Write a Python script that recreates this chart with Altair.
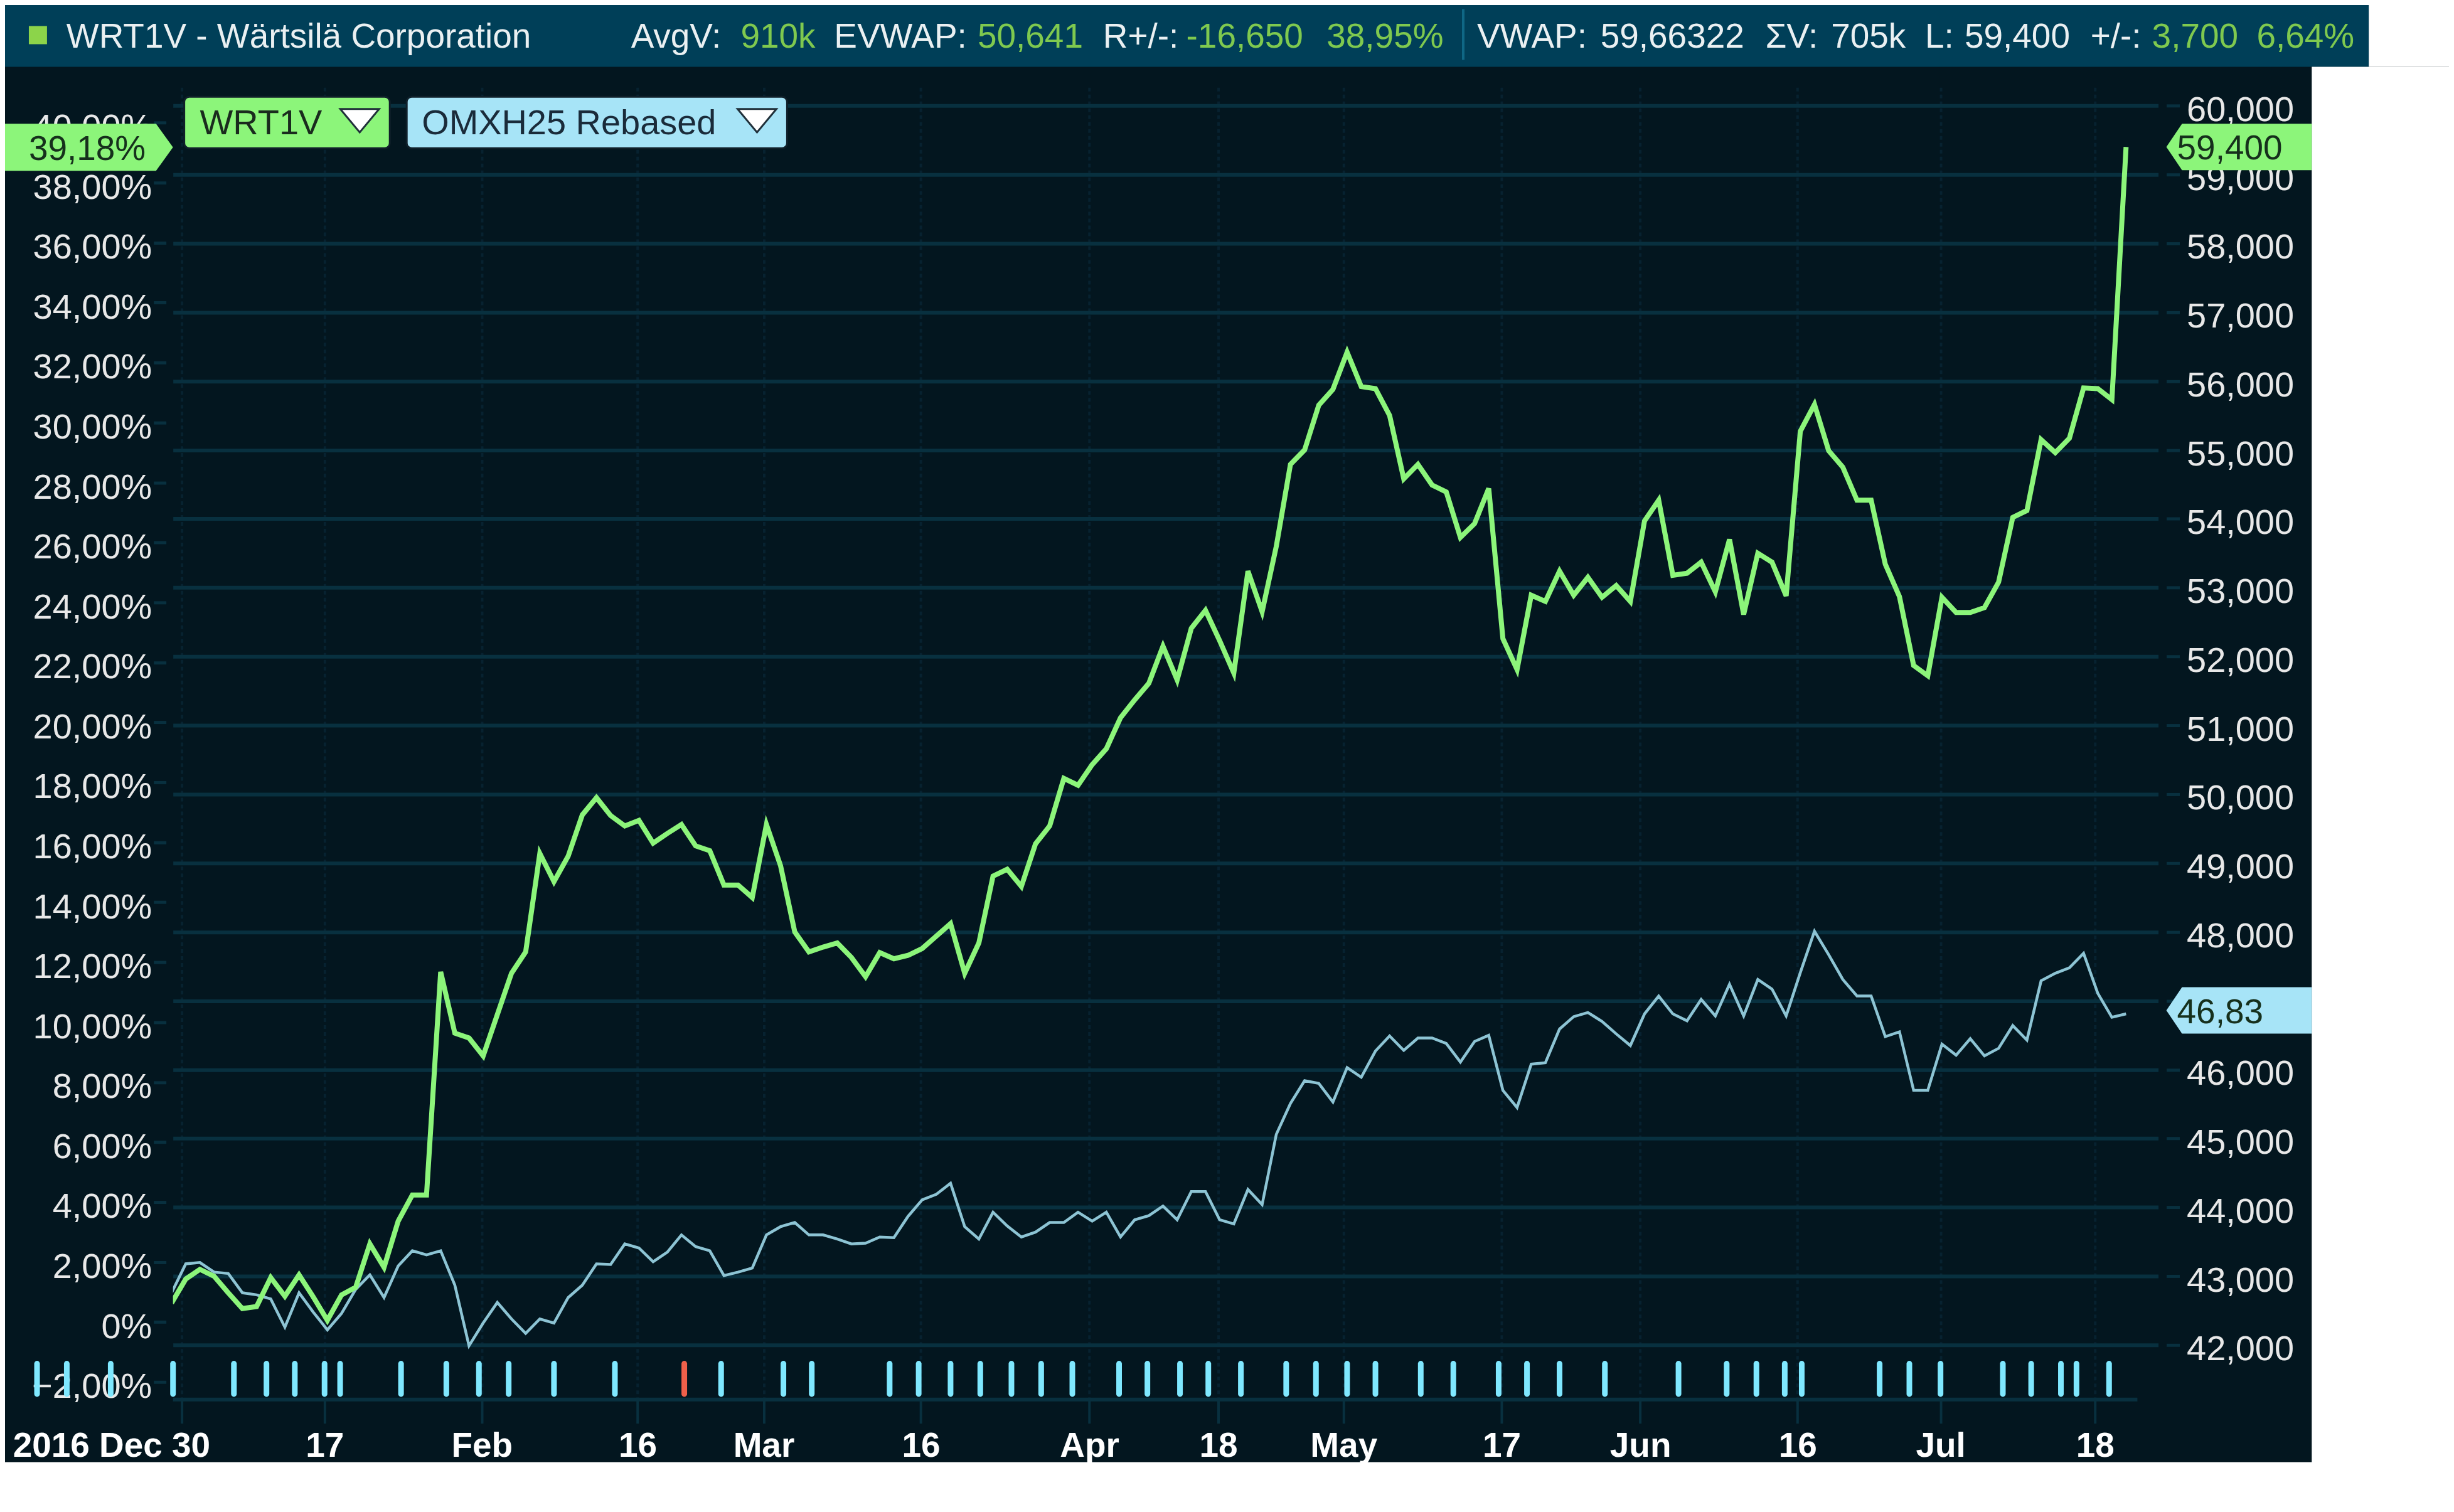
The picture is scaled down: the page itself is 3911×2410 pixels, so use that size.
import json

import altair as alt
import pandas as pd

# trading sessions, -1 is clipped by the left edge of the plot
sessions = list(range(-1, 138))

wrt1v_price = [
    42610, 42960, 43100, 43000, 42760, 42530, 42560, 42980, 42710, 43020,
    42700, 42360, 42730, 42840, 43470, 43130, 43800, 44180, 44180, 47420,
    46530, 46460, 46200, 46800, 47400, 47710, 49140, 48730, 49100, 49700,
    49950, 49690, 49540, 49620, 49290, 49430, 49560, 49250, 49180, 48680,
    48680, 48500, 49560, 48960, 48000, 47710, 47780, 47840, 47630, 47350,
    47700, 47610, 47660, 47760, 47940, 48120, 47400, 47840, 48810, 48910,
    48660, 49280, 49540, 50230, 50130, 50430, 50660, 51110, 51370, 51610,
    52150, 51660, 52410, 52670, 52230, 51760, 53240, 52650, 53600, 54790,
    55000, 55650, 55880, 56420, 55920, 55890, 55500, 54580, 54790, 54490,
    54390, 53730, 53930, 54440, 52260, 51810, 52890, 52800, 53240, 52890,
    53150, 52860, 53030, 52800, 53970, 54270, 53180, 53210, 53370, 52940,
    53700, 52610, 53500, 53370, 52880, 55270, 55660, 54990, 54750, 54270,
    54270, 53340, 52870, 51870, 51720, 52860, 52640, 52640, 52710, 53080,
    54020, 54120, 55150, 54960, 55170, 55900, 55890, 55730, 59400,
]

# OMXH25 rebased onto the price axis
omxh25_rebased = [
    42760, 43180, 43200, 43060, 43040, 42760, 42730, 42670, 42260, 42760,
    42480, 42220, 42460, 42810, 43020, 42690, 43150, 43370, 43310, 43370,
    42870, 41990, 42320, 42620, 42380, 42170, 42380, 42320, 42690, 42870,
    43180, 43170, 43470, 43410, 43210, 43350, 43600, 43430, 43370, 43010,
    43060, 43120, 43600, 43720, 43780, 43600, 43600, 43540, 43470, 43480,
    43570, 43560, 43870, 44110, 44190, 44350, 43720, 43540, 43930, 43730,
    43570, 43640, 43780, 43780, 43930, 43800, 43930, 43570, 43820, 43880,
    44020, 43820, 44230, 44230, 43820, 43760, 44260, 44040, 45060, 45510,
    45840, 45800, 45530, 46030, 45890, 46270, 46490, 46280, 46460, 46460,
    46380, 46110, 46410, 46500, 45700, 45450, 46080, 46100, 46590, 46770,
    46830, 46700, 46520, 46350, 46810, 47070, 46810, 46710, 47020, 46780,
    47240, 46780, 47310, 47170, 46780, 47410, 48010, 47670, 47310, 47070,
    47070, 46480, 46550, 45700, 45700, 46370, 46210, 46450, 46200, 46310,
    46640, 46430, 47290, 47400, 47480, 47690, 47110, 46760, 46810,
]

event_sessions = [
    -10.5, -8.4, -5.3, -0.9, 3.4, 5.7, 7.7, 9.8, 10.9, 15.2, 18.4, 20.7, 22.8,
    26.0, 30.3, 37.8, 42.2, 44.2, 49.7, 51.75, 54.0, 56.1, 58.3, 60.4, 62.6,
    65.9, 67.9, 70.2, 72.2, 74.5, 77.7, 79.8, 82.0, 84.0, 87.2, 89.5, 92.7,
    94.7, 97.0, 100.2, 105.4, 108.8, 110.9, 112.9, 114.1, 119.6, 121.7, 123.9,
    128.3, 130.3, 132.4, 133.5, 135.8,
]
red_event_sessions = [35.2]

tick_sessions = [-0.28, 9.8, 20.9, 31.9, 40.8, 51.9, 63.8, 72.9, 81.75, 92.9, 102.7, 113.8, 123.9, 134.8]
tick_labels = ["2016 Dec 30", "17", "Feb", "16", "Mar", "16", "Apr", "18", "May", "17", "Jun", "16", "Jul", "18"]

price_ticks = list(range(42000, 61000, 1000))
pct_ticks = list(range(-2, 42, 2))

header_texts = [
    ("WRT1V - Wärtsilä Corporation", 106, "white"),
    ("AvgV:", 1007, "white"), ("910k", 1182, "green"),
    ("EVWAP:", 1331, "white"), ("50,641", 1560, "green"),
    ("R+/-:", 1760, "white"), ("-16,650", 1893, "green"), ("38,95%", 2117, "green"),
    ("VWAP:", 2357, "white"), ("59,66322", 2554, "white"),
    ("ΣV:", 2817, "white"), ("705k", 2922, "white"),
    ("L:", 3072, "white"), ("59,400", 3135, "white"),
    ("+/-:", 3336, "white"), ("3,700", 3434, "green"), ("6,64%", 3601, "green"),
]

PANEL = "#03161f"
HEADER = "#003f58"
GRID = "#08303f"
VGRID = "#072230"
TEXT = "#e8e8e8"
LIME = "#8cf57a"
SKY = "#a7e4f7"
HEADER_COLORS = {"white": "#eaf0f2", "green": "#7fc94f"}
FONT = "Liberation Sans"

# where the plot's corner sits in the picture
OX, OY = 276, 138
PLOT_W, PLOT_H = 3168, 2094
FULL_W, FULL_H = 3900, 2395

x_scale = alt.Scale(domain=[-0.903, 139.27], nice=False, zero=False)
price_scale = alt.Scale(domain=[41210, 60264], nice=False, zero=False)
pct_scale = alt.Scale(domain=[-2.585, 41.177], nice=False, zero=False)

one_row = alt.Chart(alt.Data(values=[{"a": 1}]))


def box(x0, y0, x1, y1, fill, **kw):
    return one_row.mark_rect(fill=fill, **kw).encode(
        x=alt.value(x0 - OX), x2=alt.value(x1 - OX),
        y=alt.value(y0 - OY), y2=alt.value(y1 - OY))


def label(text, x, y, color, size=55, **kw):
    return one_row.mark_text(
        text=text, font=FONT, fontSize=size, color=color, align="left",
        baseline="alphabetic", **kw).encode(x=alt.value(x - OX), y=alt.value(y - OY))


def marker(x, y, shape, size, **kw):
    return one_row.mark_point(shape=shape, size=size, filled=True, opacity=1, **kw).encode(
        x=alt.value(x - OX), y=alt.value(y - OY))


layers = [
    box(0, 0, 3780, 105, HEADER),
    box(3780, 0, FULL_W + 20, 105, "white"),
    box(3689, 105, FULL_W + 20, FULL_H + 20, "white"),
    box(0, 2332, FULL_W + 20, FULL_H + 20, "white"),
    box(46, 40, 75, 69, "#8cd44a"),
    box(2333, 13, 2337, 94, "#0f6785"),
]
for text, x, kind in header_texts:
    layers.append(label(text, x, 75, HEADER_COLORS[kind]))

# series
lines = pd.DataFrame({"session": sessions, "wrt1v": wrt1v_price, "omx": omxh25_rebased})

x_axis = alt.Axis(
    values=tick_sessions, title=None, domain=False, grid=True, gridColor=VGRID,
    gridWidth=4, gridDash=[6, 5], ticks=True, tickColor=GRID, tickWidth=4, tickSize=38,
    labelFont=FONT, labelFontSize=55, labelFontWeight="bold", labelColor="white",
    labelPadding=10, labelLimit=600, labelOverlap=False, labelBound=False, labelFlush=False,
    labelAlign={"condition": {"test": "datum.value < 0", "value": "right"}, "value": "center"},
    labelOffset={"condition": {"test": "datum.value < 0", "value": 45}, "value": 0},
    labelExpr=f"{json.dumps(tick_labels)}[indexof({json.dumps(tick_sessions)}, datum.value)]",
)
price_axis = alt.Axis(
    values=price_ticks, title=None, orient="right", domain=False, grid=True, gridColor=GRID,
    gridWidth=6, offset=13, tickColor=GRID, tickWidth=5, tickSize=21,
    labelFont=FONT, labelFontSize=56, labelColor=TEXT, labelPadding=11, labelOffset=7,
    labelLimit=400, labelOverlap=False, labelBound=False, labelFlush=False, format=",.0f",
)
pct_axis = alt.Axis(
    values=pct_ticks, title=None, orient="left", domain=False, grid=False, offset=11,
    tickColor=GRID, tickWidth=5, tickSize=20,
    labelFont=FONT, labelFontSize=56, labelColor=TEXT, labelPadding=3, labelOffset=8,
    labelLimit=400, labelOverlap=False, labelBound=False, labelFlush=False,
    labelExpr="datum.value == 0 ? '0%' : replace(format(datum.value, '.2f'), '.', ',') + '%'",
)

x_shared = alt.X("session:Q", scale=x_scale, axis=x_axis)

# bottom line of the plot stops short of the right edge
layers.append(
    alt.Chart(pd.DataFrame({"session": [-0.903], "b": [137.8], "p": [41210]}))
    .mark_rule(color=GRID, strokeWidth=6)
    .encode(x=x_shared, x2="b:Q", y=alt.Y("p:Q", scale=price_scale, axis=None))
)

layers.append(
    alt.Chart(lines).mark_line(color="#8dc4d4", strokeWidth=4.5, clip=True).encode(
        x=x_shared, y=alt.Y("omx:Q", scale=price_scale, axis=None))
)
layers.append(
    alt.Chart(lines).mark_line(color=LIME, strokeWidth=8, clip=True).encode(
        x=x_shared, y=alt.Y("wrt1v:Q", scale=price_scale, axis=price_axis))
)

# event markers along the bottom
events = pd.DataFrame({
    "session": event_sessions + red_event_sessions,
    "kind": ["news"] * len(event_sessions) + ["alert"] * len(red_event_sessions),
    "top": 41730,
    "bottom": 41290,
})
layers.append(
    alt.Chart(events).mark_rule(strokeWidth=9, strokeCap="round").encode(
        x=x_shared,
        y=alt.Y("top:Q", scale=price_scale, axis=None),
        y2="bottom:Q",
        color=alt.Color("kind:N", legend=None,
                        scale=alt.Scale(domain=["news", "alert"], range=["#7fe8ff", "#f0604a"])))
)

# value tags on both sides
LEFT_TAG = "M0,0L-0.27,-0.375L-2.76,-0.375L-2.76,0.375L-0.27,0.375Z"
RIGHT_TAG = "M0,0L0.25,-0.37L2.32,-0.37L2.32,0.37L0.25,0.37Z"
TAG_DARK = "#16301c"

pct_tag = alt.Chart(pd.DataFrame({"v": [39.18], "t": ["39,18%"]}))
layers.append(
    pct_tag.mark_point(shape=LEFT_TAG, size=40000, filled=True, opacity=1, color=LIME).encode(
        x=alt.value(0), y=alt.Y("v:Q", scale=pct_scale, axis=pct_axis))
)
layers.append(
    pct_tag.mark_text(font=FONT, fontSize=55, color=TAG_DARK, align="left", baseline="middle", dy=3).encode(
        x=alt.value(46 - OX), y=alt.Y("v:Q", scale=pct_scale, axis=None), text="t:N")
)

right_tags = alt.Chart(pd.DataFrame({
    "v": [59400, 46860], "t": ["59,400", "46,83"], "kind": ["wrt1v", "omx"]}))
layers.append(
    right_tags.mark_point(shape=RIGHT_TAG, size=40000, filled=True, opacity=1).encode(
        x=alt.value(3457 - OX),
        y=alt.Y("v:Q", scale=price_scale, axis=None),
        fill=alt.Fill("kind:N", legend=None,
                      scale=alt.Scale(domain=["wrt1v", "omx"], range=[LIME, SKY])))
)
layers.append(
    right_tags.mark_text(font=FONT, fontSize=55, color=TAG_DARK, align="left", baseline="middle", dy=3).encode(
        x=alt.value(3474 - OX), y=alt.Y("v:Q", scale=price_scale, axis=None), text="t:N")
)

# series buttons
DOWN = "M-1,-0.6L1,-0.6L0,0.6Z"
layers += [
    box(294, 153, 622, 235, LIME, cornerRadius=8, stroke="#10202a", strokeWidth=3),
    box(649, 153, 1256, 235, SKY, cornerRadius=8, stroke="#10202a", strokeWidth=3),
    label("WRT1V", 319, 213, "#1a2b1e", size=56),
    label("OMXH25 Rebased", 673, 213, "#1a2b3a", size=56),
    marker(574, 191, DOWN, 3844, fill="white", stroke="#20303a", strokeWidth=3),
    marker(1208, 191, DOWN, 3844, fill="white", stroke="#20303a", strokeWidth=3),
]

chart = (
    alt.layer(*layers)
    .resolve_scale(y="independent", color="independent", fill="independent")
    .properties(
        width=PLOT_W,
        height=PLOT_H,
        padding={"left": OX - 8, "top": OY - 8, "right": FULL_W - PLOT_W - (OX - 8),
                 "bottom": FULL_H - PLOT_H - (OY - 8)},
        autosize=alt.AutoSizeParams(type="none"),
        background=PANEL,
    )
    .configure_view(strokeWidth=0)
)

chart.save("out.html", embed_options={"renderer": "svg", "actions": False})
